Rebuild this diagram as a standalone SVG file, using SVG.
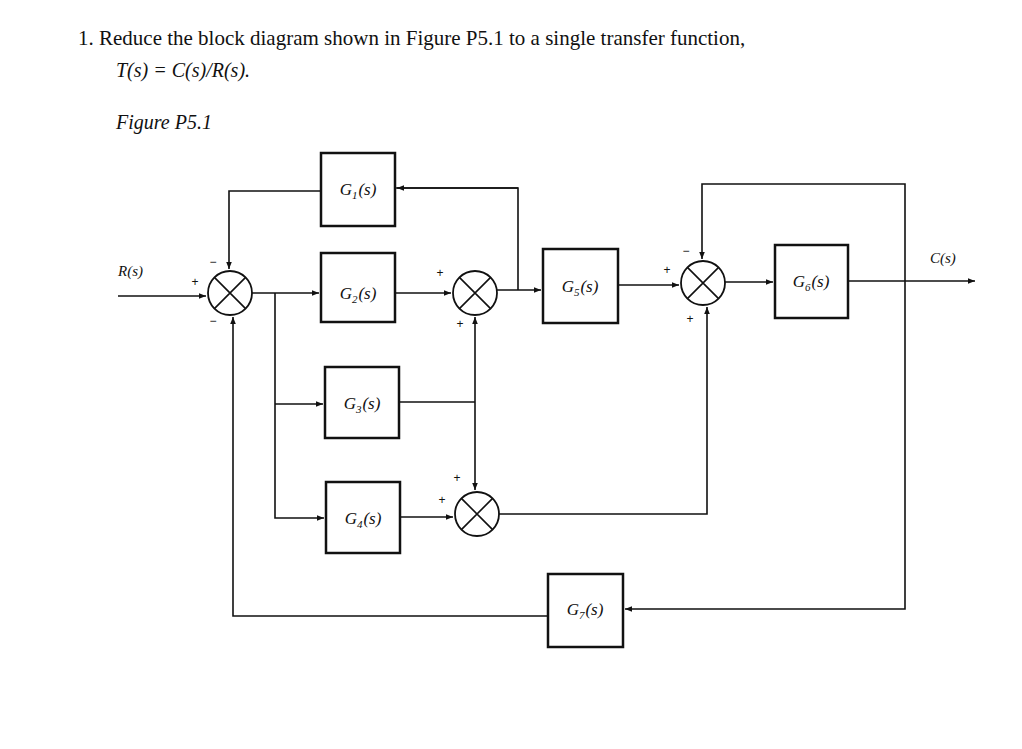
<svg xmlns="http://www.w3.org/2000/svg" width="1022" height="749" viewBox="0 0 1022 749">
<defs>
<marker id="ar" viewBox="0 0 10 10" refX="10" refY="5" markerWidth="9" markerHeight="7" orient="auto" markerUnits="userSpaceOnUse"><path d="M0,1 L10,5 L0,9 z" fill="#111"/></marker>
</defs>
<style>
.t{font-family:"Liberation Serif",serif;fill:#111}
.b{fill:#fff;stroke:#111;stroke-width:2.5}
.l{fill:none;stroke:#111;stroke-width:1.6}
.s{fill:#fff;stroke:#111;stroke-width:1.8}
.g{font-family:"Liberation Serif",serif;font-style:italic;font-size:17px;fill:#111;text-anchor:middle}
.sg{font-family:"Liberation Sans",sans-serif;font-size:12px;fill:#111;text-anchor:middle}
</style>
<rect width="1022" height="749" fill="#fff"/>
<text class="t" x="78" y="45" font-size="21">1. Reduce the block diagram shown in Figure P5.1 to a single transfer function,</text>
<text class="t" x="116" y="77" font-size="20" font-style="italic">T(s) = C(s)/R(s).</text>
<text class="t" x="116" y="129" font-size="20" font-style="italic">Figure P5.1</text>
<g id="connectors">
<path class="l" d="M118,296 H206" marker-end="url(#ar)"/>
<path class="l" d="M395,188 H518 V290" />
<path class="l" d="M518,188 H397" marker-end="url(#ar)"/>
<path class="l" d="M321,191 H229 V269" marker-end="url(#ar)"/>
<path class="l" d="M252,293 H319" marker-end="url(#ar)"/>
<path class="l" d="M275,293 V518 H324" marker-end="url(#ar)"/>
<path class="l" d="M275,404 H323" marker-end="url(#ar)"/>
<path class="l" d="M395,293 H451" marker-end="url(#ar)"/>
<path class="l" d="M399,402 H475"/>
<path class="l" d="M475,402 V317" marker-end="url(#ar)"/>
<path class="l" d="M475,402 V490" marker-end="url(#ar)"/>
<path class="l" d="M400,517 H453" marker-end="url(#ar)"/>
<path class="l" d="M497,290 H541" marker-end="url(#ar)"/>
<path class="l" d="M618,285 H679" marker-end="url(#ar)"/>
<path class="l" d="M725,282 H773" marker-end="url(#ar)"/>
<path class="l" d="M848,281 H975" marker-end="url(#ar)"/>
<path class="l" d="M905,281 V184 H702 V259" marker-end="url(#ar)"/>
<path class="l" d="M499,514 H707 V307" marker-end="url(#ar)"/>
<path class="l" d="M905,281 V609 H625" marker-end="url(#ar)"/>
<path class="l" d="M548,616 H233 V317" marker-end="url(#ar)"/>
</g>
<g id="sum1"><circle class="s" cx="230" cy="293" r="22"/><path class="l" d="M214.4,277.4 L245.6,308.6 M245.6,277.4 L214.4,308.6"/></g>
<g id="sum2"><circle class="s" cx="475" cy="293" r="22"/><path class="l" d="M459.4,277.4 L490.6,308.6 M490.6,277.4 L459.4,308.6"/></g>
<g id="sum3"><circle class="s" cx="703" cy="283" r="22"/><path class="l" d="M687.4,267.4 L718.6,298.6 M718.6,267.4 L687.4,298.6"/></g>
<g id="sum4"><circle class="s" cx="477" cy="514" r="22"/><path class="l" d="M461.4,498.4 L492.6,529.6 M492.6,498.4 L461.4,529.6"/></g>
<g id="signs">
<text class="sg" x="195" y="286">+</text>
<text class="sg" x="213" y="266">−</text>
<text class="sg" x="213" y="325">−</text>
<text class="sg" x="440" y="277">+</text>
<text class="sg" x="460" y="328">+</text>
<text class="sg" x="667" y="274">+</text>
<text class="sg" x="686" y="255">−</text>
<text class="sg" x="690" y="323">+</text>
<text class="sg" x="442" y="504">+</text>
<text class="sg" x="457" y="482">+</text>
</g>
<g id="labels">
<text class="t" x="118" y="276" font-size="15" font-style="italic">R(s)</text>
<text class="t" x="930" y="263" font-size="15" font-style="italic">C(s)</text>
</g>
<g id="G1"><rect class="b" x="321" y="153" width="74" height="73"/><text class="g" x="358" y="195">G<tspan font-size="11" dy="4">1</tspan><tspan dx="1" dy="-4">(s)</tspan></text></g>
<g id="G2"><rect class="b" x="321" y="253" width="74" height="69"/><text class="g" x="358" y="299">G<tspan font-size="11" dy="4">2</tspan><tspan dx="1" dy="-4">(s)</tspan></text></g>
<g id="G3"><rect class="b" x="325" y="367" width="74" height="71"/><text class="g" x="362" y="409">G<tspan font-size="11" dy="4">3</tspan><tspan dx="1" dy="-4">(s)</tspan></text></g>
<g id="G4"><rect class="b" x="326" y="482" width="74" height="71"/><text class="g" x="363" y="524">G<tspan font-size="11" dy="4">4</tspan><tspan dx="1" dy="-4">(s)</tspan></text></g>
<g id="G5"><rect class="b" x="543" y="249" width="75" height="74"/><text class="g" x="580" y="292">G<tspan font-size="11" dy="4">5</tspan><tspan dx="1" dy="-4">(s)</tspan></text></g>
<g id="G6"><rect class="b" x="775" y="245" width="73" height="73"/><text class="g" x="811" y="287">G<tspan font-size="11" dy="4">6</tspan><tspan dx="1" dy="-4">(s)</tspan></text></g>
<g id="G7"><rect class="b" x="548" y="574" width="75" height="73"/><text class="g" x="585" y="615">G<tspan font-size="11" dy="4">7</tspan><tspan dx="1" dy="-4">(s)</tspan></text></g>
</svg>
